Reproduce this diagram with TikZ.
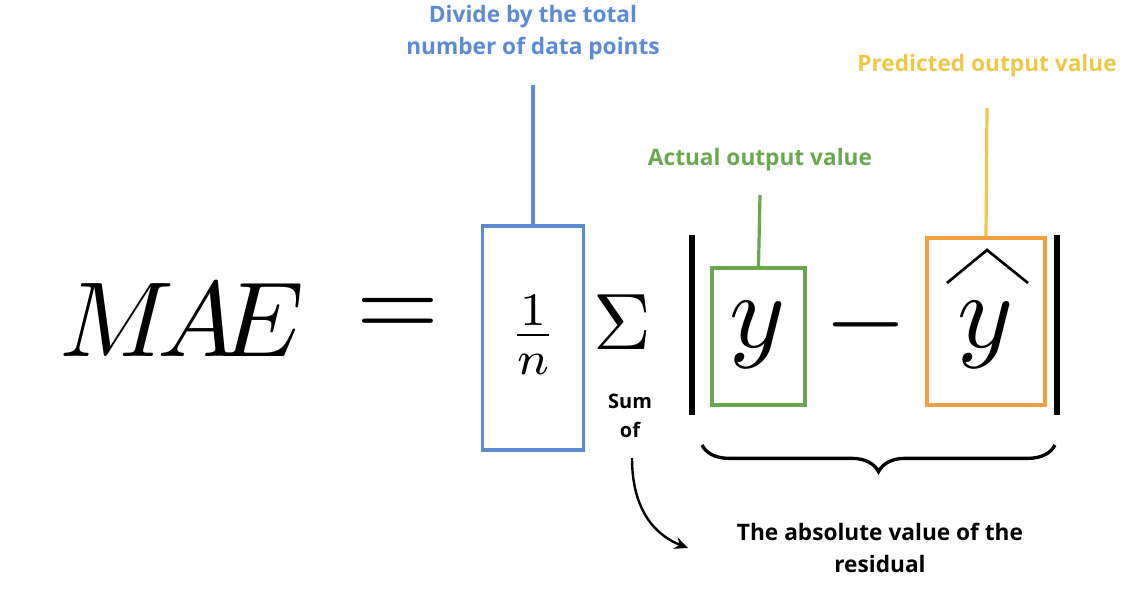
\documentclass[tikz,border=0pt]{standalone}
\usepackage{fontspec}
\setsansfont{Open Sans}
\usetikzlibrary{decorations.pathreplacing,arrows.meta}
\definecolor{cblue}{HTML}{5B8BD4}
\definecolor{cgreen}{HTML}{6AA84F}
\definecolor{cyel}{HTML}{EFC84A}
\definecolor{corange}{HTML}{F0A040}
\tikzset{lbl/.style={font=\sffamily\bfseries\fontsize{17}{24}\selectfont,align=center},
 bx/.style={draw,line width=2.4pt},
 big/.style={scale=8}}
\begin{document}
\begin{tikzpicture}[x=0.75pt,y=-0.75pt]
\useasboundingbox (0,0) rectangle (1136,600);
\node[big] (mae) at (182,320) {$M\!A\!E$};
\node[big] (eq) at (398,318) {$=$};
% blue
\node[bx,draw=cblue,minimum width=75.75pt,minimum height=168pt] (bb) at (533,338) {};
\node[scale=5] (fr) at (533,335) {$\frac{1}{n}$};
\node[lbl,text=cblue] (tb) at (533,33) {Divide by the total\\number of data points};
\coordinate (cb) at (533,85);
\draw[cblue,line width=2.4pt] (cb) -- (bb.north);
% sigma
\node[scale=6] (sig) at (622,322) {$\Sigma$};
\node[lbl,text=black,font=\sffamily\bfseries\fontsize{15}{22}\selectfont] (sum) at (630,416) {Sum\\of};
% bars
\coordinate (l1) at (692,235); \coordinate (l2) at (692,415);
\coordinate (r1) at (1057,235); \coordinate (r2) at (1057,415);
\draw[line width=4pt] (l1) -- (l2);
\draw[line width=4pt] (r1) -- (r2);
% green
\node[bx,draw=cgreen,minimum width=69.75pt,minimum height=102.75pt] (gb) at (758.5,336.5) {};
\node[big] (y) at (758,335) {$y$};
\node[lbl,text=cgreen] (tg) at (760,160) {Actual output value};
\coordinate (cg) at (760,195);
\draw[cgreen,line width=2.4pt] (cg) -- (gb.north);
% minus
\node[big] (mi) at (866,325) {$-$};
% orange
\node[bx,draw=corange,minimum width=88.5pt,minimum height=125.25pt] (ob) at (986,321.5) {};
\node[big] (yh) at (986,335) {$y$};
\coordinate (h1) at (947,283); \coordinate (h2) at (987,250); \coordinate (h3) at (1028,283);
\draw[line width=2pt,line join=miter] (h1) -- (h2) -- (h3);
\node[lbl,text=cyel] (ty) at (987,66) {Predicted output value};
\coordinate (cy) at (987,108);
\draw[cyel,line width=2.4pt] (cy) -- (ob.north);
% brace
\coordinate (b1) at (1055,445); \coordinate (b2) at (702,445);
\draw[line width=2.5pt,decorate,decoration={brace,amplitude=20pt}] (b1) -- (b2);
\node[lbl,text=black] (tr) at (880,548) {The absolute value of the\\residual};
% curved arrow
\coordinate (a1) at (632,458); \coordinate (a2) at (688,548);
\draw[line width=1.8pt,-{Stealth[length=10pt,width=9pt]}] (a1) .. controls (632,510) and (655,535) .. (a2);
\end{tikzpicture}
\end{document}
